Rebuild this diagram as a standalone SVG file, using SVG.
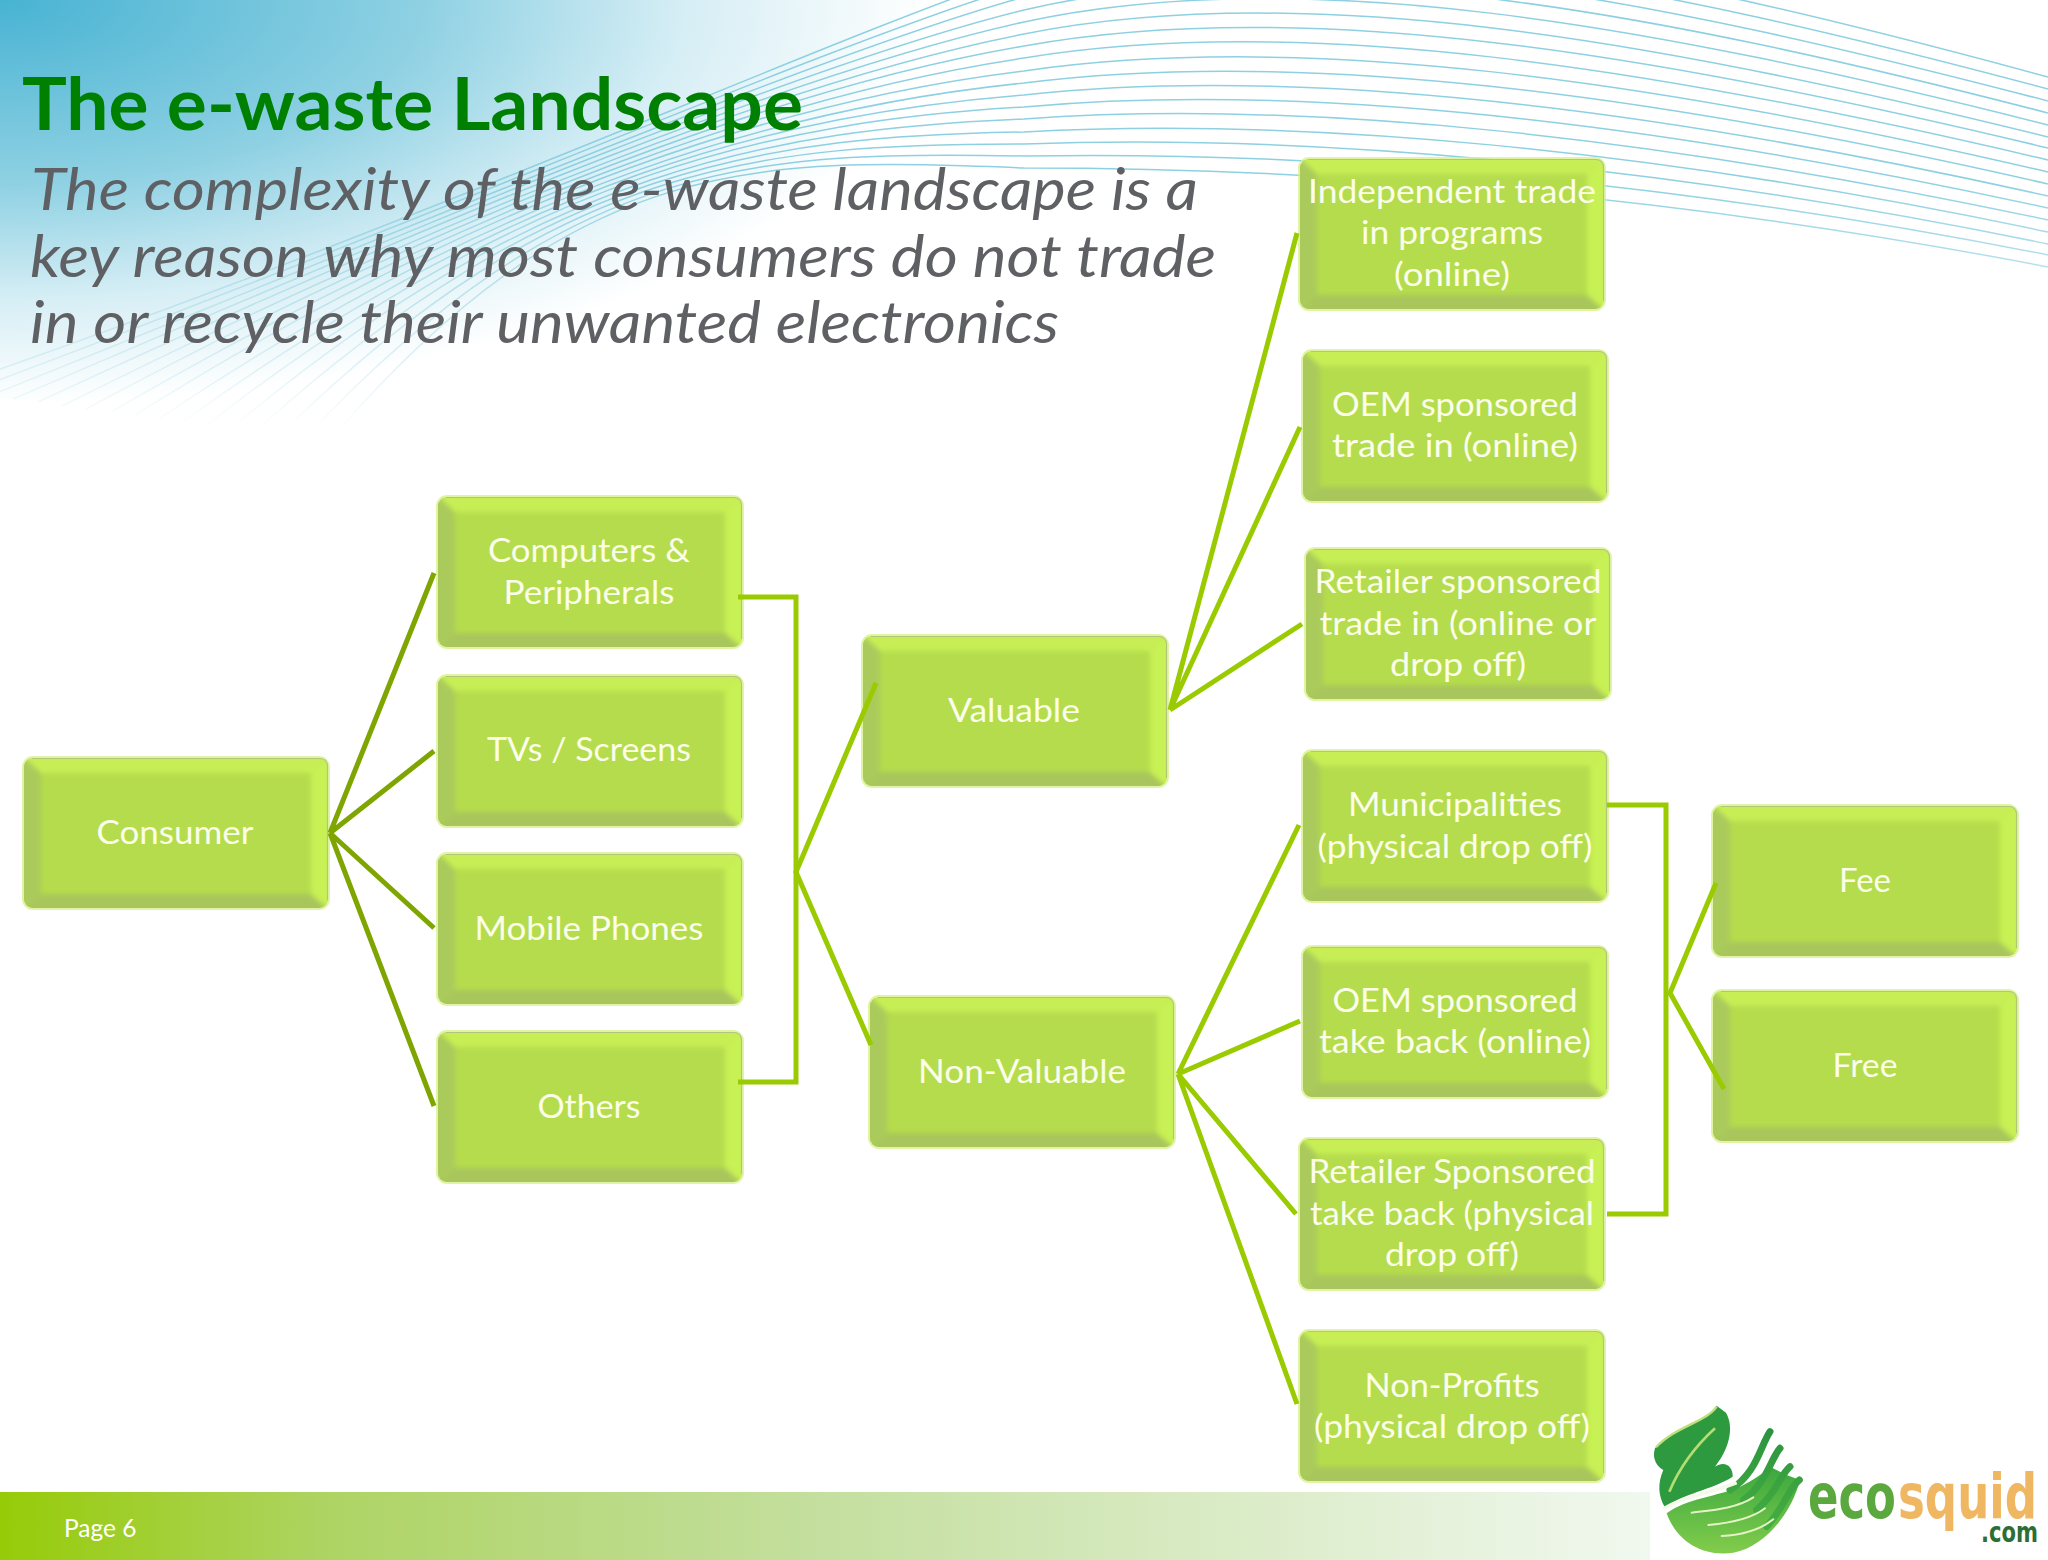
<svg xmlns="http://www.w3.org/2000/svg" width="2048" height="1560" viewBox="0 0 2048 1560">
<style>
text{font-family:"Lato","Liberation Sans",sans-serif}
.n{font-size:33.5px;fill:#fbfeea;text-anchor:middle}
.sub{font-size:58px;font-style:italic;fill:#5f6064}
.c1{fill:none;stroke:#7ea500;stroke-width:5}
.c2{fill:none;stroke:#99cb00;stroke-width:5}
.logoText{font-family:"DejaVu Sans Condensed","DejaVu Sans",sans-serif;font-weight:700}
</style>
<defs>
<radialGradient id="sky" gradientUnits="userSpaceOnUse" cx="0" cy="0" r="1" gradientTransform="scale(1010 440)">
<stop offset="0" stop-color="#48b3d3"/><stop offset=".42" stop-color="#8fd1e3"/><stop offset=".68" stop-color="#d6eef5"/><stop offset=".92" stop-color="#fff"/>
</radialGradient>
<linearGradient id="wave" gradientUnits="userSpaceOnUse" x1="0" y1="180" x2="0" y2="430">
<stop offset="0" stop-color="#8dd0e1"/><stop offset=".45" stop-color="#a6dae7" stop-opacity=".7"/><stop offset="1" stop-color="#a6dae7" stop-opacity="0"/>
</linearGradient>
<linearGradient id="foot" x1="0" y1="0" x2="1" y2="0">
<stop offset="0" stop-color="#96cb08"/><stop offset=".2" stop-color="#aed464"/><stop offset=".5" stop-color="#c4df9f"/><stop offset="1" stop-color="#f1f8ef"/>
</linearGradient>
<linearGradient id="logoBody" x1="0" y1="0" x2="0" y2="1">
<stop offset="0" stop-color="#3aa83e"/><stop offset="1" stop-color="#82cc4c"/>
</linearGradient>
<linearGradient id="tentacle" gradientUnits="userSpaceOnUse" x1="0" y1="210" x2="0" y2="490">
<stop offset="0" stop-color="#2b9440"/><stop offset="1" stop-color="#45ad40"/>
</linearGradient>
<clipPath id="clipBox"><rect width="304" height="150" rx="9"/></clipPath>
<filter id="soft" x="-10%" y="-15%" width="120%" height="130%"><feGaussianBlur stdDeviation="2.6"/></filter>
<filter id="logoSoft" x="-5%" y="-5%" width="110%" height="110%"><feGaussianBlur stdDeviation="1.4"/></filter>
<g id="box">
<rect x="-1" y="-1" width="306" height="152" rx="10" fill="none" stroke="#d6f086" stroke-width="2" opacity=".75"/>
<rect width="304" height="150" rx="9" fill="#b5dc4c"/>
<g clip-path="url(#clipBox)"><g filter="url(#soft)">
<polygon points="-10,-10 314,-10 287,15 17,15" fill="#c7ef54"/>
<polygon points="-10,-10 17,15 17,136 -10,160" fill="#aacb5b"/>
<polygon points="314,-10 314,160 287,136 287,15" fill="#c8f154"/>
<polygon points="-10,160 17,136 287,136 314,160" fill="#a8c65c"/>
</g></g>
<path d="M8 .5H296Q303 .5 303.5 8V142" fill="none" stroke="#a9bb84" stroke-width="1.2" opacity=".8"/>
</g>
</defs>

<rect width="2048" height="1560" fill="#fff"/>
<g id="background">
<rect width="1010" height="445" fill="url(#sky)"/>
<path fill="none" stroke="url(#wave)" stroke-width="1.5" d="M-60 390C420 225 824 40 1024 -27C1300 -107 1650 -31 2048 77
M-36 393C430 220 820 47 1024 -15C1300 -90 1650 -17 2048 89
M-11 396C440 216 816 55 1024 -3C1300 -73 1650 -3 2048 101
M13 399C450 211 812 62 1024 10C1300 -55 1650 10 2048 113
M38 402C460 206 808 70 1024 22C1300 -38 1650 24 2048 125
M62 406C470 202 804 77 1024 34C1300 -21 1650 38 2048 137
M86 409C480 197 800 84 1024 46C1300 -4 1650 52 2048 148
M111 412C490 192 796 92 1024 58C1300 13 1650 66 2048 160
M135 415C500 187 792 99 1024 71C1300 31 1650 79 2048 172
M160 418C510 183 788 107 1024 83C1300 48 1650 93 2048 184
M184 421C520 178 784 114 1024 95C1300 65 1650 107 2048 196
M208 424C530 173 780 121 1024 107C1300 82 1650 121 2048 208
M233 427C540 169 776 129 1024 119C1300 99 1650 135 2048 220
M257 430C550 164 772 136 1024 132C1300 117 1650 148 2048 232
M282 433C560 159 768 144 1024 144C1300 134 1650 162 2048 244
M306 437C570 155 764 151 1024 156C1300 151 1650 176 2048 255
M330 440C580 150 760 158 1024 168C1300 168 1650 190 2048 267"/>
<rect y="1492" width="1650" height="68" fill="url(#foot)"/>
</g>

<g id="heading">
<text x="22" y="130" font-size="72" font-weight="700" fill="#008000" textLength="781" lengthAdjust="spacingAndGlyphs">The e-waste Landscape</text>
<text class="sub" x="31" y="210" textLength="1167" lengthAdjust="spacingAndGlyphs">The complexity of the e-waste landscape is a</text>
<text class="sub" x="30" y="277" textLength="1186" lengthAdjust="spacingAndGlyphs">key reason why most consumers do not trade</text>
<text class="sub" x="30" y="343" textLength="1029" lengthAdjust="spacingAndGlyphs">in or recycle their unwanted electronics</text>
</g>

<g id="nodes">
<g id="consumer"><use href="#box" x="24" y="758"/><text class="n" x="175" y="844" textLength="157" lengthAdjust="spacingAndGlyphs">Consumer</text></g>
<g id="computers"><use href="#box" x="438" y="497"/><text class="n" x="589" y="562" textLength="202" lengthAdjust="spacingAndGlyphs">Computers &amp;</text><text class="n" x="589" y="604" textLength="171" lengthAdjust="spacingAndGlyphs">Peripherals</text></g>
<g id="tvs"><use href="#box" x="438" y="676"/><text class="n" x="589" y="761" textLength="204" lengthAdjust="spacingAndGlyphs">TVs / Screens</text></g>
<g id="mobile"><use href="#box" x="438" y="854"/><text class="n" x="589" y="940" textLength="229" lengthAdjust="spacingAndGlyphs">Mobile Phones</text></g>
<g id="others"><use href="#box" x="438" y="1032"/><text class="n" x="589" y="1118" textLength="103" lengthAdjust="spacingAndGlyphs">Others</text></g>
<g id="valuable"><use href="#box" x="863" y="636"/><text class="n" x="1014" y="722" textLength="132" lengthAdjust="spacingAndGlyphs">Valuable</text></g>
<g id="non-valuable"><use href="#box" x="870" y="997"/><text class="n" x="1022" y="1083" textLength="208" lengthAdjust="spacingAndGlyphs">Non-Valuable</text></g>
<g id="independent"><use href="#box" x="1300" y="159"/><text class="n" x="1452" y="203" textLength="288" lengthAdjust="spacingAndGlyphs">Independent trade</text><text class="n" x="1452" y="244" textLength="182" lengthAdjust="spacingAndGlyphs">in programs</text><text class="n" x="1452" y="286" textLength="116" lengthAdjust="spacingAndGlyphs">(online)</text></g>
<g id="oem-trade"><use href="#box" x="1303" y="351"/><text class="n" x="1455" y="416" textLength="246" lengthAdjust="spacingAndGlyphs">OEM sponsored</text><text class="n" x="1455" y="457" textLength="246" lengthAdjust="spacingAndGlyphs">trade in (online)</text></g>
<g id="retailer-trade"><use href="#box" x="1306" y="549"/><text class="n" x="1458" y="593" textLength="287" lengthAdjust="spacingAndGlyphs">Retailer sponsored</text><text class="n" x="1458" y="635" textLength="277" lengthAdjust="spacingAndGlyphs">trade in (online or</text><text class="n" x="1458" y="676" textLength="136" lengthAdjust="spacingAndGlyphs">drop off)</text></g>
<g id="municipalities"><use href="#box" x="1303" y="751"/><text class="n" x="1455" y="816" textLength="214" lengthAdjust="spacingAndGlyphs">Municipalities</text><text class="n" x="1455" y="858" textLength="275" lengthAdjust="spacingAndGlyphs">(physical drop off)</text></g>
<g id="oem-takeback"><use href="#box" x="1303" y="947"/><text class="n" x="1455" y="1012" textLength="245" lengthAdjust="spacingAndGlyphs">OEM sponsored</text><text class="n" x="1455" y="1053" textLength="272" lengthAdjust="spacingAndGlyphs">take back (online)</text></g>
<g id="retailer-takeback"><use href="#box" x="1300" y="1139"/><text class="n" x="1452" y="1183" textLength="287" lengthAdjust="spacingAndGlyphs">Retailer Sponsored</text><text class="n" x="1452" y="1225" textLength="284" lengthAdjust="spacingAndGlyphs">take back (physical</text><text class="n" x="1452" y="1266" textLength="134" lengthAdjust="spacingAndGlyphs">drop off)</text></g>
<g id="non-profits"><use href="#box" x="1300" y="1331"/><text class="n" x="1452" y="1397" textLength="175" lengthAdjust="spacingAndGlyphs">Non-Profits</text><text class="n" x="1452" y="1438" textLength="276" lengthAdjust="spacingAndGlyphs">(physical drop off)</text></g>
<g id="fee"><use href="#box" x="1713" y="806"/><text class="n" x="1865" y="892" textLength="52" lengthAdjust="spacingAndGlyphs">Fee</text></g>
<g id="free"><use href="#box" x="1713" y="991"/><text class="n" x="1865" y="1077" textLength="65" lengthAdjust="spacingAndGlyphs">Free</text></g>
</g>

<g id="connectors">
<path class="c1" d="M434 573L330 833M434 751L330 833M434 928L330 833M434 1106L330 833"/>
<path class="c2" d="M738 597H796V1082H738"/>
<path class="c2" d="M876 683L796 872L871 1045"/>
<path class="c2" d="M1297 233L1170 710M1300 427L1170 710M1302 624L1170 710"/>
<path class="c2" d="M1299 825L1178 1074M1300 1021L1178 1074M1296 1214L1178 1074M1297 1404L1178 1074"/>
<path class="c2" d="M1607 805H1666V1214H1607"/>
<path class="c2" d="M1716 883L1670 993L1724 1089"/>
</g>

<g id="footer">
<text x="64" y="1537" font-size="24.5" fill="#fff">Page 6</text>
</g>

<g id="logo">
<g transform="translate(1600 1360) scale(.3333)" filter="url(#logoSoft)">
<path fill="#2f9a3f" d="M350 137C325 185 225 200 165 265C155 295 170 320 190 330C172 370 175 410 195 442C250 400 335 390 398 350C400 320 375 300 345 320C385 270 405 205 378 158Z"/>
<path fill="none" stroke="#b4dd72" stroke-width="8" d="M345 205C290 255 240 320 208 395"/>
<path fill="none" stroke="#bfe07c" stroke-width="7" d="M350 140C320 185 225 200 168 262"/>
<path fill="url(#logoBody)" d="M200 460C260 415 350 410 420 380C460 360 490 340 510 320L560 345L600 360C578 450 500 560 400 578C310 592 230 545 200 460Z"/>
<g fill="none" stroke="url(#tentacle)" stroke-width="21" stroke-linecap="round">
<path d="M510 215C480 260 470 340 390 390"/>
<path d="M540 265C510 300 500 370 430 420"/>
<path d="M570 320C540 345 530 400 470 450"/>
<path d="M598 360C565 385 555 440 500 500"/>
</g>
<g fill="none" stroke="#e3f3c2" stroke-width="6" stroke-linecap="round">
<path d="M275 458C340 450 410 445 460 412"/>
<path d="M325 495C385 490 450 480 495 445"/>
<path d="M365 528C425 525 480 510 520 478"/>
</g>
<path fill="none" stroke="#f4faea" stroke-width="10" d="M190 447C250 408 340 398 410 368"/>
</g>
<text class="logoText" x="1808" y="1518" font-size="62" fill="#5aa83e" textLength="88" lengthAdjust="spacingAndGlyphs">eco</text>
<text class="logoText" x="1898" y="1518" font-size="62" fill="#f0b762" textLength="139" lengthAdjust="spacingAndGlyphs">squid</text>
<text class="logoText" x="1981" y="1542" font-size="29" fill="#2c6e34" textLength="57" lengthAdjust="spacingAndGlyphs">.com</text>
</g>
</svg>
